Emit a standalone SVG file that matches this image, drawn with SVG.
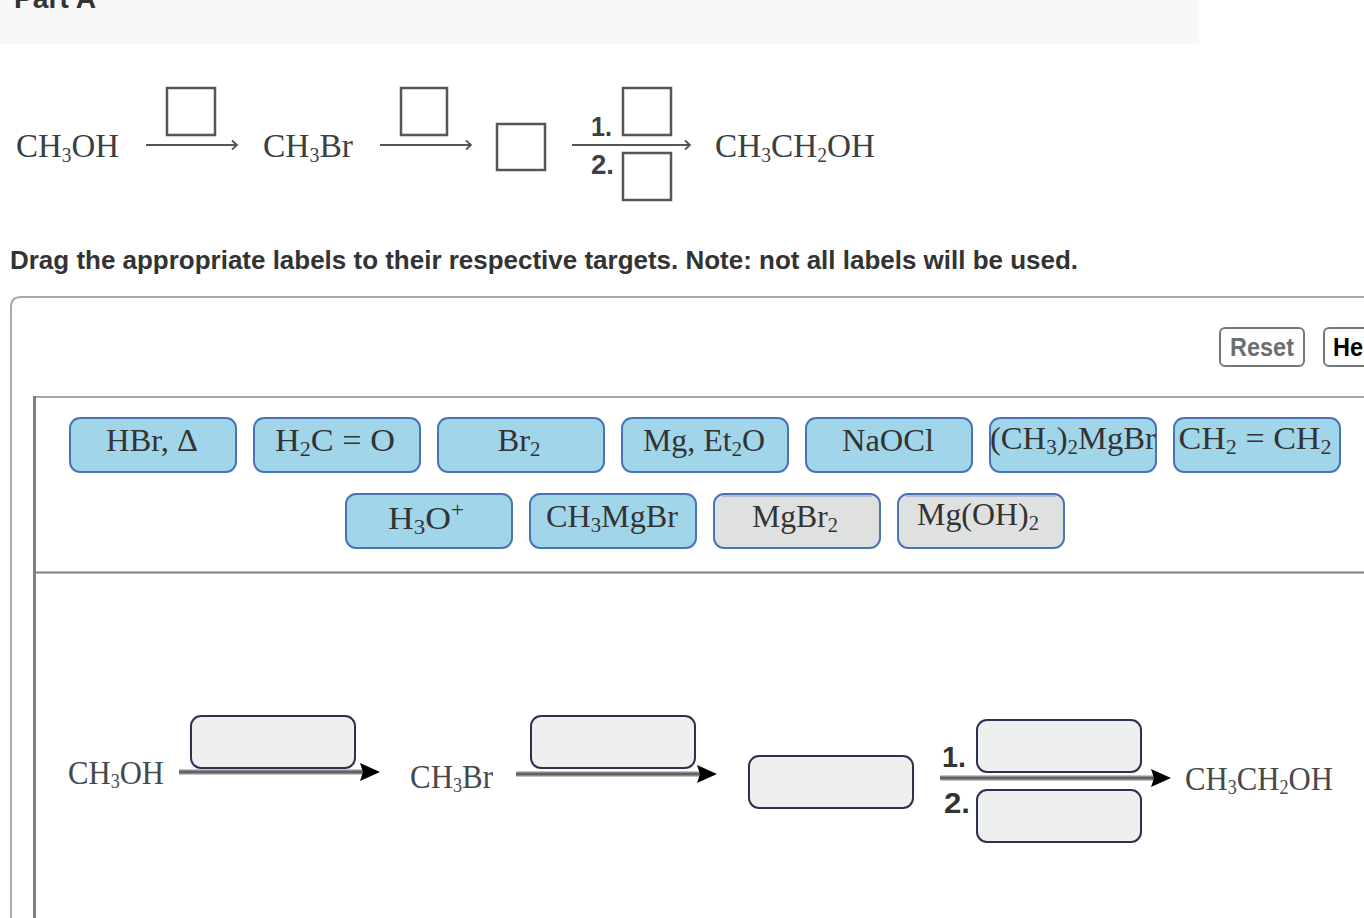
<svg xmlns="http://www.w3.org/2000/svg" width="1364" height="918" viewBox="0 0 1364 918">
<style>
text{font-family:"Liberation Serif","Times New Roman",serif;fill:#333}
.sans{font-family:"Liberation Sans",Arial,sans-serif;font-weight:700}
.top{font-size:34px;fill:#3a3f42}
.low{font-size:34px;fill:#45494b}
.lab{font-size:31px;text-anchor:middle;fill:#333}
.sub{font-size:20px}
.box{fill:#fff;stroke:#555;stroke-width:2.5}
.pal{fill:#a1d5e9;stroke:#4a74b8;stroke-width:2}
.used{fill:#dfe1e1;stroke:#4a74b8;stroke-width:2}
.tgt{fill:#eef0f0;stroke:#2f3050;stroke-width:2}
.thin{stroke:#555;stroke-width:2;fill:none}
.thick{stroke:#8a8a8a;stroke-width:5;fill:none}
.core{stroke:#555;stroke-width:1.500;fill:none}
.shine{stroke:#a3b4d4;stroke-width:1.500;fill:none}
</style>
<defs>
<marker id="open" markerWidth="12" markerHeight="12" refX="9" refY="6" orient="auto" markerUnits="userSpaceOnUse"><path d="M4 1.500L9 6L4 10.500" fill="none" stroke="#555" stroke-width="1.800"/></marker>
</defs>
<rect width="1364" height="918" fill="#fff"/>
<rect id="header" x="0" y="0" width="1199" height="44" fill="#f8f8f8"/>
<text class="sans" x="14" y="8" font-size="28" textLength="82" lengthAdjust="spacingAndGlyphs" style="fill:#333">Part A</text>
<g id="connectors">
<path class="thin" marker-end="url(#open)" d="M146 145H237"/>
<path class="thin" marker-end="url(#open)" d="M380 145H471"/>
<path class="thin" marker-end="url(#open)" d="M572 145H690"/>
<path class="thick" d="M179 772H364"/><path class="core" d="M179 772H364"/><path fill="#000" d="M360 763L380 772L360 781L363 772Z"/>
<path class="thick" d="M516 774H701"/><path class="core" d="M516 774H701"/><path fill="#000" d="M697 765L717 774L697 783L700 774Z"/>
<path class="thick" d="M940 778H1154"/><path class="core" d="M940 778H1154"/><path fill="#000" d="M1151 769L1171 778L1151 787L1154 778Z"/>
</g>
<g id="top-formulas">
<text class="top" x="16" y="157" textLength="103" lengthAdjust="spacingAndGlyphs">CH<tspan class="sub" dy="5">3</tspan><tspan dy="-5">OH</tspan></text>
<text class="top" x="263" y="157" textLength="90" lengthAdjust="spacingAndGlyphs">CH<tspan class="sub" dy="5">3</tspan><tspan dy="-5">Br</tspan></text>
<text class="top" x="715" y="157" textLength="160" lengthAdjust="spacingAndGlyphs">CH<tspan class="sub" dy="5">3</tspan><tspan dy="-5">CH</tspan><tspan class="sub" dy="5">2</tspan><tspan dy="-5">OH</tspan></text>
<text class="sans" x="591" y="136" font-size="27" textLength="21" lengthAdjust="spacingAndGlyphs" style="fill:#3a3f42">1.</text>
<text class="sans" x="591" y="174" font-size="27" textLength="23" lengthAdjust="spacingAndGlyphs" style="fill:#3a3f42">2.</text>
</g>
<g id="top-boxes">
<rect class="box" x="167" y="88" width="48" height="47"/>
<rect class="box" x="401" y="88" width="46" height="47"/>
<rect class="box" x="497" y="124" width="48" height="46"/>
<rect class="box" x="623" y="88" width="48" height="47"/>
<rect class="box" x="623" y="153" width="48" height="47"/>
</g>
<text id="instruction" class="sans" x="10" y="269" font-size="26.500" textLength="1068" lengthAdjust="spacingAndGlyphs">Drag the appropriate labels to their respective targets. Note: not all labels will be used.</text>
<g id="panel">
<path d="M1364 297H21Q11 297 11 307V918" fill="none" stroke="#aaa" stroke-width="2"/>
<path d="M1364 397H35" fill="none" stroke="#888" stroke-width="1.500"/>
<path d="M34.500 396V918" fill="none" stroke="#808080" stroke-width="3"/>
<path d="M36 572.500H1364" fill="none" stroke="#808080" stroke-width="2"/>
</g>
<g id="btn-reset"><rect x="1220" y="328" width="84" height="38" rx="5" fill="#fff" stroke="#6f7b7b" stroke-width="2"/><text class="sans" x="1262" y="356" font-size="25" text-anchor="middle" textLength="64" lengthAdjust="spacingAndGlyphs" style="fill:#6d6e6e">Reset</text></g>
<g id="btn-help"><rect x="1324" y="328" width="60" height="38" rx="5" fill="#fff" stroke="#6f7b7b" stroke-width="2"/><text class="sans" x="1333" y="356" font-size="25" textLength="30" lengthAdjust="spacingAndGlyphs" style="fill:#000">He</text></g>
<g id="label-hbr"><rect class="pal" x="70" y="418" width="166" height="54" rx="10"/><text class="lab" x="152" y="451" textLength="92" lengthAdjust="spacingAndGlyphs">HBr, Δ</text></g>
<g id="label-h2co"><rect class="pal" x="254" y="418" width="166" height="54" rx="10"/><text class="lab" x="335" y="451" textLength="120" lengthAdjust="spacingAndGlyphs">H<tspan class="sub" dy="5">2</tspan><tspan dy="-5">C = O</tspan></text></g>
<g id="label-br2"><rect class="pal" x="438" y="418" width="166" height="54" rx="10"/><text class="lab" x="519" y="451" textLength="43" lengthAdjust="spacingAndGlyphs">Br<tspan class="sub" dy="5">2</tspan></text></g>
<g id="label-mg-et2o"><rect class="pal" x="622" y="418" width="166" height="54" rx="10"/><text class="lab" x="704" y="451" textLength="122" lengthAdjust="spacingAndGlyphs">Mg, Et<tspan class="sub" dy="5">2</tspan><tspan dy="-5">O</tspan></text></g>
<g id="label-naocl"><rect class="pal" x="806" y="418" width="166" height="54" rx="10"/><text class="lab" x="888" y="451" textLength="92" lengthAdjust="spacingAndGlyphs">NaOCl</text></g>
<g id="label-me2mgbr"><rect class="pal" x="990" y="418" width="166" height="54" rx="10"/><text class="lab" x="1073" y="449" textLength="166" lengthAdjust="spacingAndGlyphs">(CH<tspan class="sub" dy="5">3</tspan><tspan dy="-5">)</tspan><tspan class="sub" dy="5">2</tspan><tspan dy="-5">MgBr</tspan></text></g>
<g id="label-ethene"><rect class="pal" x="1174" y="418" width="166" height="54" rx="10"/><text class="lab" x="1255" y="449" textLength="153" lengthAdjust="spacingAndGlyphs">CH<tspan class="sub" dy="5">2</tspan><tspan dy="-5"> = CH</tspan><tspan class="sub" dy="5">2</tspan></text></g>
<g id="label-h3o"><rect class="pal" x="346" y="494" width="166" height="54" rx="10"/><text class="lab" x="426" y="529" textLength="76" lengthAdjust="spacingAndGlyphs">H<tspan class="sub" dy="5">3</tspan><tspan dy="-5">O</tspan><tspan class="sub" dy="-12">+</tspan></text></g>
<g id="label-ch3mgbr"><rect class="pal" x="530" y="494" width="166" height="54" rx="10"/><text class="lab" x="612" y="527" textLength="132" lengthAdjust="spacingAndGlyphs">CH<tspan class="sub" dy="5">3</tspan><tspan dy="-5">MgBr</tspan></text></g>
<g id="label-mgbr2"><rect class="used" x="714" y="494" width="166" height="54" rx="10"/><path class="shine" d="M722 496H872"/><text class="lab" x="795" y="527" textLength="86" lengthAdjust="spacingAndGlyphs">MgBr<tspan class="sub" dy="5">2</tspan></text></g>
<g id="label-mgoh2"><rect class="used" x="898" y="494" width="166" height="54" rx="10"/><path class="shine" d="M906 496H1056"/><text class="lab" x="978" y="525" textLength="122" lengthAdjust="spacingAndGlyphs">Mg(OH)<tspan class="sub" dy="5">2</tspan></text></g>
<g id="low-formulas">
<text class="low" x="68" y="784" textLength="96" lengthAdjust="spacingAndGlyphs">CH<tspan class="sub" dy="4">3</tspan><tspan dy="-4">OH</tspan></text>
<text class="low" x="410" y="788" textLength="83" lengthAdjust="spacingAndGlyphs">CH<tspan class="sub" dy="4">3</tspan><tspan dy="-4">Br</tspan></text>
<text class="low" x="1185" y="790" textLength="148" lengthAdjust="spacingAndGlyphs">CH<tspan class="sub" dy="4">3</tspan><tspan dy="-4">CH</tspan><tspan class="sub" dy="4">2</tspan><tspan dy="-4">OH</tspan></text>
<text class="sans" x="942" y="767" font-size="29" textLength="24" lengthAdjust="spacingAndGlyphs" style="fill:#333">1.</text>
<text class="sans" x="944" y="813" font-size="29" textLength="26" lengthAdjust="spacingAndGlyphs" style="fill:#333">2.</text>
</g>
<g id="target-1"><rect class="tgt" x="191" y="716" width="164" height="52" rx="10"/></g>
<g id="target-2"><rect class="tgt" x="531" y="716" width="164" height="52" rx="10"/></g>
<g id="target-3"><rect class="tgt" x="749" y="756" width="164" height="52" rx="10"/></g>
<g id="target-4"><rect class="tgt" x="977" y="720" width="164" height="52" rx="10"/></g>
<g id="target-5"><rect class="tgt" x="977" y="790" width="164" height="52" rx="10"/></g>
</svg>
